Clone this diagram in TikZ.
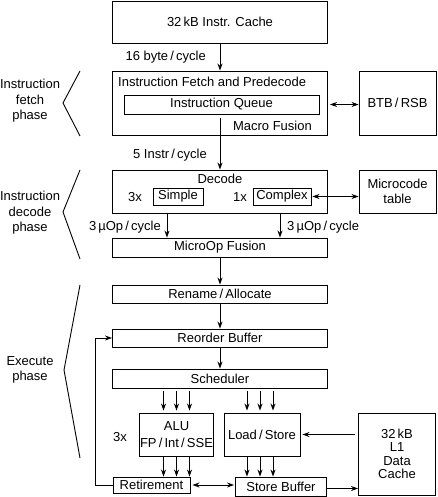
\documentclass[tikz,border=0pt]{standalone}
\usepackage{fontspec}
\setmainfont{Liberation Sans}
\usetikzlibrary{arrows.meta,positioning,calc}

\begin{document}
\begin{tikzpicture}[
  x=1pt, y=-1pt,
  font=\fontsize{13}{15.5}\selectfont,
  box/.style={draw, line width=0.9pt, inner sep=0pt, align=center},
  wide/.style={box, minimum width=215pt},
  txt/.style={inner sep=0pt},
  phase/.style={txt, align=center},
  arr/.style={-{Stealth[length=7pt,width=5pt]}, line width=0.9pt},
  darr/.style={{Stealth[length=7pt,width=5pt]}-{Stealth[length=7pt,width=5pt]}, line width=0.9pt},
  sarr/.style={arr, shorten <=3pt, shorten >=2pt}
]
\useasboundingbox (0,0) rectangle (437,497);

% fetch
\node[wide, minimum height=42pt] (icache) at (220,22) {32\,kB Instr. Cache};
\node[wide, minimum height=64pt] (fetch) at (220,103) {};
\node[txt, anchor=west] (fetchlbl) at (118,82) {Instruction Fetch and Predecode};
\node[box, minimum width=195pt, minimum height=19pt] (queue) at (221.5,104.5) {Instruction Queue};
\node[txt, anchor=east] (macro) at (312,126) {Macro Fusion};
\node[box, minimum width=77pt, minimum height=64pt] (btb) at (397.5,103) {BTB\,/\,RSB};

% decode
\node[wide, minimum height=43pt] (decode) at (220,191.5) {};
\node[txt] (decodelbl) at (220,179) {Decode};
\node[box, minimum width=50pt, minimum height=17pt] (simple) at (178,196.5) {Simple};
\node[box, minimum width=58pt, minimum height=17pt] (complex) at (282,196.5) {Complex};
\node[txt] (simplex) at (135,197) {3x};
\node[txt] (complexx) at (240,197) {1x};
\node[box, minimum width=77pt, minimum height=43pt] (ucode) at (397.5,191.5) {Microcode\\table};
\node[wide, minimum height=19pt] (fusion) at (220,247.5) {MicroOp Fusion};

% execute
\node[wide, minimum height=18pt] (rename) at (220,294) {Rename\,/\,Allocate};
\node[wide, minimum height=18pt] (rob) at (220,338) {Reorder Buffer};
\node[wide, minimum height=19pt] (sched) at (220,378.5) {Scheduler};
\node[box, minimum width=74pt, minimum height=43pt] (alu) at (176.5,434.5) {ALU\\[2pt]FP\,/\,Int\,/\,SSE};
\node[txt] (alux) at (120,437) {3x};
\node[box, minimum width=76pt, minimum height=43pt] (ldst) at (262,434.5) {Load\,/\,Store};
\node[box, minimum width=77pt, minimum height=82pt, font=\fontsize{13}{13.5}\selectfont] (l1) at (397,454) {32\,kB\\L1\\Data\\Cache};
\node[box, minimum width=77pt, minimum height=16pt] (retire) at (151.5,485) {Retirement};
\node[box, minimum width=91pt, minimum height=19pt] (stbuf) at (281,486.5) {Store Buffer};

% phases
\node[phase] (pfetch) at (30,101) {Instruction\\fetch\\phase};
\node[phase] (pdecode) at (30,213) {Instruction\\decode\\phase};
\node[phase] (pexec) at (30,370) {Execute\\phase};
\draw[line width=0.9pt] (80,71) -- (63,103) -- (80,136);
\draw[line width=0.9pt] (80,170) -- (63,212) -- (80,259);
\draw[line width=0.9pt] (80,285) -- (64,370) -- (80,458);

% connectors
\draw[arr] (icache) -- (fetch);
\node[txt, anchor=east] (rate1) at (206,57) {16 byte\,/\,cycle};
\draw[arr] ([yshift=-4pt]queue.south -| decode.north) -- (decode.north);
\node[txt, anchor=east] (rate2) at (207,155) {5 Instr\,/\,cycle};
\draw[darr, shorten <=2pt] (queue.east -| fetch.east) -- (queue.east -| btb.west);
\draw[darr, shorten <=1pt] (complex.east) -- (complex.east -| ucode.west);
\draw[arr] ([xshift=-11pt]simple.south |- decode.south) -- ([xshift=-11pt]simple.south |- fusion.north);
\draw[arr] ([xshift=-2pt]complex.south |- decode.south) -- ([xshift=-2pt]complex.south |- fusion.north);
\node[txt, anchor=east] (rate3) at (161,227) {3\,µOp\,/\,cycle};
\node[txt, anchor=west] (rate4) at (287,227) {3\,µOp\,/\,cycle};
\draw[arr] (fusion) -- (rename); \draw[arr] (rename) -- (rob); \draw[arr] (rob) -- (sched);

\draw[sarr] ([xshift=-13pt]alu.north |- sched.south) -- ([xshift=-13pt]alu.north);
\draw[sarr] ([xshift=0pt]alu.north |- sched.south) -- ([xshift=0pt]alu.north);
\draw[sarr] ([xshift=13pt]alu.north |- sched.south) -- ([xshift=13pt]alu.north);
\draw[sarr] ([xshift=-15pt]ldst.north |- sched.south) -- ([xshift=-15pt]ldst.north);
\draw[sarr] ([xshift=-2pt]ldst.north |- sched.south) -- ([xshift=-2pt]ldst.north);
\draw[sarr] ([xshift=11pt]ldst.north |- sched.south) -- ([xshift=11pt]ldst.north);

\draw[arr, shorten <=1pt] ([xshift=-13pt]alu.south) -- ([xshift=-13pt]alu.south |- retire.north);
\draw[arr, shorten <=1pt] ([xshift=0pt]alu.south) -- ([xshift=0pt]alu.south |- retire.north);
\draw[arr, shorten <=1pt] ([xshift=13pt]alu.south) -- ([xshift=13pt]alu.south |- retire.north);
\draw[arr, shorten <=1pt] ([xshift=-15pt]ldst.south) -- ([xshift=-15pt]ldst.south |- stbuf.north);
\draw[arr, shorten <=1pt] ([xshift=-2pt]ldst.south) -- ([xshift=-2pt]ldst.south |- stbuf.north);
\draw[arr, shorten <=1pt] ([xshift=11pt]ldst.south) -- ([xshift=11pt]ldst.south |- stbuf.north);

\draw[arr, shorten <=3pt, shorten >=2pt] (l1.west |- ldst.east) -- (ldst.east);
\draw[darr, shorten <=2pt, shorten >=1pt] (retire.east) -- (retire.east -| stbuf.west);
\draw[arr] ([yshift=-2pt]stbuf.east) -- ([yshift=-2pt]stbuf.east -| l1.west);
\draw[arr] (retire.west) -- ++(-17,0) |- (rob.west);
\end{tikzpicture}
\end{document}
